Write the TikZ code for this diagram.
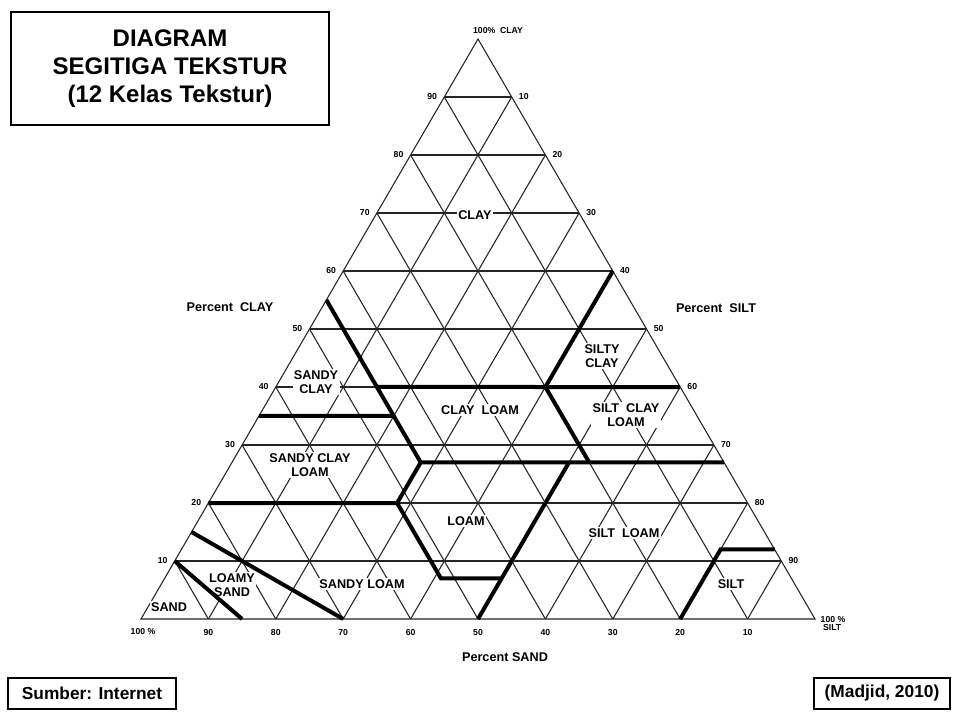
\documentclass[tikz,border=0pt]{standalone}
\usepackage{fontspec}
\setmainfont{Liberation Sans}
\usetikzlibrary{calc}
\begin{document}
\begin{tikzpicture}[x=0.75pt,y=-0.75pt,
  grid/.style={line width=0.8pt,black!85},
  bound/.style={line width=3pt,line join=miter},
  area/.style={fill=white,inner sep=1pt,font=\fontsize{9.5}{10.5}\selectfont\bfseries,align=center},
  tick/.style={font=\fontsize{6.5}{7}\selectfont\bfseries,inner sep=0pt},
  axis/.style={font=\fontsize{9.5}{10}\selectfont\bfseries,inner sep=0pt},
  box/.style={draw,line width=0.8pt,font=\fontsize{13}{15}\selectfont\bfseries,align=center}]
\path[use as bounding box,fill=white] (0,0) rectangle (960,720);
\coordinate (L) at (141,619);
\coordinate (R) at (815,619);
\coordinate (T) at (478,39);
\foreach \i in {10,20,...,90}{
  \pgfmathtruncatemacro\j{100-\i}
  \pgfmathsetmacro\a{\i/100}
  \pgfmathsetmacro\b{\j/100}
  \draw[grid] (barycentric cs:L=\b,R=0,T=\a) -- (barycentric cs:L=0,R=\b,T=\a);
  \draw[grid] (barycentric cs:L=\a,R=\b,T=0) -- (barycentric cs:L=\a,R=0,T=\b);
  \draw[grid] (barycentric cs:L=\b,R=\a,T=0) -- (barycentric cs:L=0,R=\a,T=\b);
  \node[tick,anchor=east] at ($(barycentric cs:L=\b,R=0,T=\a)+(-7,0)$) {\i};
  \node[tick,anchor=west] at ($(barycentric cs:L=0,R=\b,T=\a)+(7,0)$) {\j};
  \node[tick] at ($(barycentric cs:L=\a,R=\b,T=0)+(0,14)$) {\i};
}
\draw[grid] (L) -- (R) -- (T) -- cycle;
% area labels (white background)
\node[area] at (475,215) {CLAY};
\node[area] at (602,356) {SILTY\\CLAY};
\node[area] at (316,382) {SANDY\\CLAY};
\node[area] at (480,410) {CLAY\ \ LOAM};
\node[area] at (626,415) {SILT\ \ CLAY\\LOAM};
\node[area] at (310,465) {SANDY CLAY\\LOAM};
\node[area] at (466,521) {LOAM};
\node[area] at (624,533) {SILT\ \ LOAM};
\node[area] at (232,585) {LOAMY\\SAND};
\node[area] at (362,584) {SANDY LOAM};
\node[area] at (169,607) {SAND};
\node[area] at (731,584) {SILT};
% boundaries
\draw[bound] (barycentric cs:L=.85,R=.15,T=0) -- (barycentric cs:L=.90,R=0,T=.10);
\draw[bound] (barycentric cs:L=.70,R=.30,T=0) -- (barycentric cs:L=.85,R=0,T=.15);
\draw[bound] (barycentric cs:L=.80,R=0,T=.20) -- (barycentric cs:L=.52,R=.28,T=.20) -- (barycentric cs:L=.45,R=.28,T=.27) -- (barycentric cs:L=.45,R=0,T=.55);
\draw[bound] (barycentric cs:L=.52,R=.28,T=.20) -- (barycentric cs:L=.52,R=.41,T=.07) -- (barycentric cs:L=.43,R=.50,T=.07);
\draw[bound] (barycentric cs:L=.50,R=.50,T=0) -- (barycentric cs:L=.23,R=.50,T=.27);
\draw[bound] (barycentric cs:L=.45,R=.28,T=.27) -- (barycentric cs:L=0,R=.73,T=.27);
\draw[bound] (barycentric cs:L=.65,R=0,T=.35) -- (barycentric cs:L=.45,R=.20,T=.35);
\draw[bound] (barycentric cs:L=.45,R=.15,T=.40) -- (barycentric cs:L=0,R=.60,T=.40);
\draw[bound] (barycentric cs:L=.20,R=.53,T=.27) -- (barycentric cs:L=.20,R=.40,T=.40) -- (barycentric cs:L=0,R=.40,T=.60);
\draw[bound] (barycentric cs:L=.20,R=.80,T=0) -- (barycentric cs:L=.08,R=.80,T=.12) -- (barycentric cs:L=0,R=.88,T=.12);
% axis texts
\node[tick] at (498,31) {100\%\ \ CLAY};
\node[tick] at (143,632) {100 \%};
\node[tick,align=left] at (833,624) {100 \%\\[-1pt]\ SILT};
\node[axis] at (230,307) {Percent\ \ CLAY};
\node[axis] at (716,308) {Percent\ \ SILT};
\node[axis] at (505,657) {Percent SAND};
% boxes
\node[box,minimum width=238.5pt,minimum height=84.75pt,font=\fontsize{18}{21}\selectfont\bfseries] (title) at (170,68.5) {DIAGRAM\\SEGITIGA TEKSTUR\\(12 Kelas Tekstur)};
\node[box,minimum width=126pt,minimum height=23.25pt] (src) at (92,693.5) {Sumber: Internet};
\node[box,minimum width=102pt,minimum height=23.25pt] (ref) at (882,693.5) {(Madjid, 2010)};
\end{tikzpicture}
\end{document}
